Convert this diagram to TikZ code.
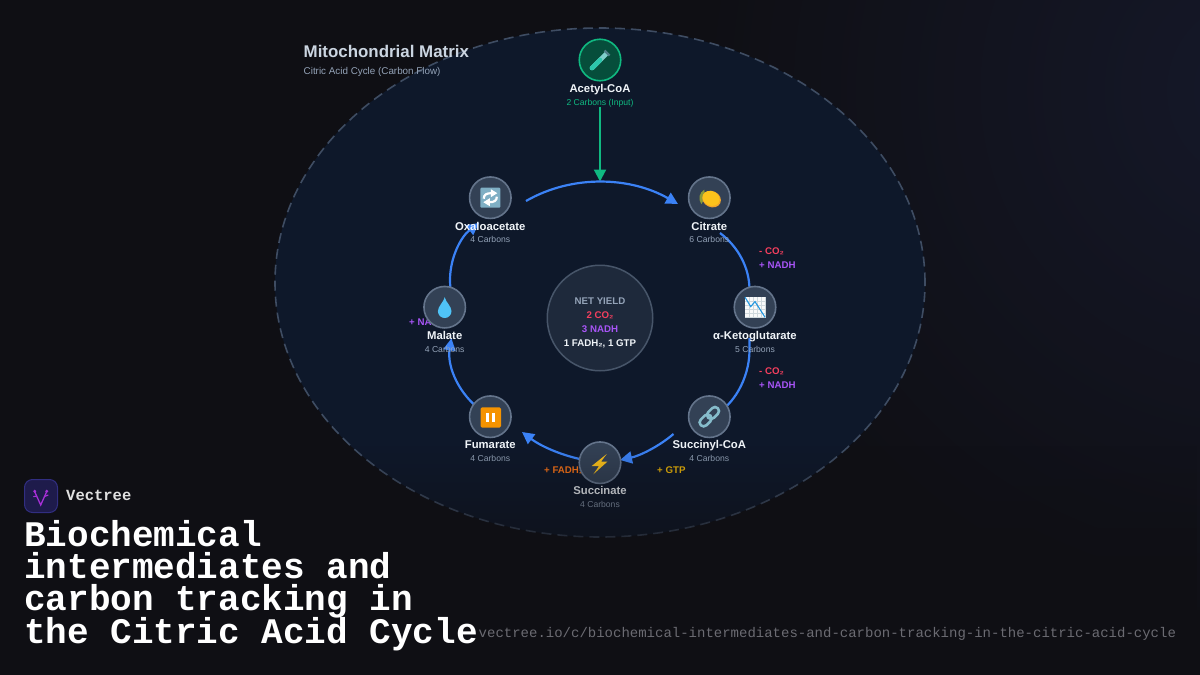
\documentclass[tikz,border=0pt]{standalone}
\usepackage{fontspec}
\setmainfont{Liberation Sans}
\newfontfamily\monof{Liberation Mono}
\usetikzlibrary{arrows.meta,fadings,shapes.geometric}
\definecolor{bgc}{HTML}{0F0F14}
\definecolor{navyc}{HTML}{151829}
\definecolor{matrixc}{HTML}{0E182A}
\definecolor{matrixline}{HTML}{3E4C62}
\definecolor{nodefill}{HTML}{334155}
\definecolor{nodeline}{HTML}{64748B}
\definecolor{blueflow}{HTML}{3B82F6}
\definecolor{greenflow}{HTML}{10B981}
\definecolor{greenfill}{HTML}{064E3B}
\definecolor{centerfill}{HTML}{1E293B}
\definecolor{centerline}{HTML}{475569}
\definecolor{muted}{HTML}{94A3B8}
\definecolor{titlec}{HTML}{CBD5E1}
\definecolor{whitec}{HTML}{F1F5F9}
\definecolor{redc}{HTML}{F43F5E}
\definecolor{purplec}{HTML}{A855F7}
\definecolor{orangec}{HTML}{F97316}
\definecolor{goldc}{HTML}{EAB308}
\definecolor{urlc}{HTML}{6B6B72}
\definecolor{logofill}{HTML}{1E1B4B}
\definecolor{logoline}{HTML}{312E81}
\definecolor{logomark}{HTML}{A62FD6}
\definecolor{tubeglass}{HTML}{7FCFCB}
\definecolor{tubeliquid}{HTML}{2CC7AC}
\definecolor{tubecap}{HTML}{4F7F88}
\definecolor{swapsq}{HTML}{7FAFC4}
\definecolor{leafc}{HTML}{8A9A3A}
\definecolor{lemonedge}{HTML}{F2A42A}
\definecolor{lemonc}{HTML}{FCC21B}
\definecolor{dropc}{HTML}{4FC3F7}
\definecolor{gridc}{HTML}{CFD8DC}
\definecolor{chartc}{HTML}{2196E0}
\definecolor{chainc}{HTML}{86BCCB}
\definecolor{pausec}{HTML}{F59300}
\pgfdeclarelayer{back}\pgfdeclarelayer{mid}\pgfdeclarelayer{front}
\pgfsetlayers{back,mid,main,front}
\tikzfading[name=downfade, top color=transparent!100, bottom color=transparent!0]
\tikzset{
  metab/.style={circle,draw=nodeline,fill=nodefill,line width=1.6pt,minimum size=41.5pt,inner sep=0pt},
  metabin/.style={circle,draw=greenflow,fill=greenfill,line width=1.6pt,minimum size=41.5pt,inner sep=0pt},
  lbl/.style={font=\fontsize{11.3}{13}\selectfont\bfseries,text=whitec,anchor=base,inner sep=0pt},
  sublbl/.style={font=\fontsize{8.6}{10}\selectfont,text=muted,anchor=base,inner sep=0pt},
  yield/.style={font=\fontsize{9.7}{12}\selectfont\bfseries,anchor=base west,inner sep=0pt},
  yieldc/.style={font=\fontsize{9.7}{12}\selectfont\bfseries,anchor=base,inner sep=0pt},
  flow/.style={draw=blueflow,line width=2.2pt,-{Triangle[length=12pt,width=12pt]}},
  inflow/.style={draw=greenflow,line width=2.2pt,-{Triangle[length=12pt,width=12pt]}},
  headline/.style={font=\monof\fontsize{36}{36}\selectfont\bfseries,text=white,anchor=base west,inner sep=0pt},
}
\begin{document}
\begin{tikzpicture}[x=1pt,y=-1pt]
\useasboundingbox (0,0) rectangle (1200,675);
\begin{pgfonlayer}{back}
  \fill[bgc] (0,0) rectangle (1200,675);
  \begin{scope}
    \clip (0,0) rectangle (1200,675);
    \shade[inner color=navyc,outer color=bgc] (1260,90) circle (560);
  \end{scope}
  \node[ellipse,draw=matrixline,fill=matrixc,line width=1.6pt,dash pattern=on 10pt off 6pt,inner sep=0pt,minimum width=650pt,minimum height=509pt] (matrix) at (600,282.5) {};
\end{pgfonlayer}

% nodes
\node[metabin] (acetyl) at (600,60) {};
\node[metab] (oxalo) at (490.3,197.7) {};
\node[metab] (citrate) at (709.3,197.7) {};
\node[metab] (akg) at (755,307.2) {};
\node[metab] (succoa) at (709.3,416.7) {};
\node[metab] (succinate) at (600,462.7) {};
\node[metab] (fumarate) at (490.3,416.7) {};
\node[metab] (malate) at (444.7,307.2) {};
\node[circle,draw=centerline,fill=centerfill,line width=1.5pt,minimum size=105.5pt,inner sep=0pt] (yieldhub) at (600,318) {};
\coordinate (entry) at (600,181.5);

% connectors and side labels, below the nodes
\begin{pgfonlayer}{mid}
  \draw[inflow] ([shift={(0,46.5)}]acetyl.center) -- (entry);
  \draw[flow] ([shift={(35.7,3.3)}]oxalo.center) .. controls ([shift={(82.7,-23.7)}]oxalo.center) and ([shift={(-78.3,-20.7)}]citrate.center) .. ([shift={(-31.3,6.3)}]citrate.center);
  \draw[flow] ([shift={(10.7,35.3)}]citrate.center) .. controls ([shift={(28.7,48.9)}]citrate.center) and ([shift={(-5.5,-39.8)}]akg.center) .. ([shift={(-5.5,-17.2)}]akg.center) -- ([shift={(-5.5,-3.2)}]akg.center);
  \draw[flow] ([shift={(-5.5,30.8)}]akg.center) -- ([shift={(-5.5,42.8)}]akg.center) .. controls ([shift={(-5.5,72.4)}]akg.center) and ([shift={(22.7,-10.2)}]succoa.center) .. ([shift={(-4.3,1.8)}]succoa.center);
  \draw[flow] ([shift={(-35.8,17.3)}]succoa.center) .. controls ([shift={(-51.1,30.2)}]succoa.center) and ([shift={(39.6,-6.9)}]succinate.center) .. ([shift={(20,-2.7)}]succinate.center);
  \draw[flow] ([shift={(-10,-1.7)}]succinate.center) .. controls ([shift={(-34.7,-5.6)}]succinate.center) and ([shift={(51.7,30.3)}]fumarate.center) .. ([shift={(31.7,15.3)}]fumarate.center);
  \draw[flow] ([shift={(-7.8,-5.3)}]fumarate.center) .. controls ([shift={(-31.3,-21.8)}]fumarate.center) and ([shift={(2.2,59.5)}]malate.center) .. ([shift={(6.7,31.1)}]malate.center);
  \draw[flow] ([shift={(5.8,-12.2)}]malate.center) -- ([shift={(5.3,-27.2)}]malate.center) .. controls ([shift={(5.3,-49.8)}]malate.center) and ([shift={(-29.3,38.9)}]oxalo.center) .. ([shift={(-11.3,25.3)}]oxalo.center);
  \node[yield,text=redc] (l1) at (759,254) {- CO₂};
  \node[yield,text=purplec] (l2) at (759,268) {+ NADH};
  \node[yield,text=redc] (l3) at (759,374) {- CO₂};
  \node[yield,text=purplec] (l4) at (759,388) {+ NADH};
  \node[yield,text=purplec] (l5) at (409,325) {+ NADH};
  \node[yield,text=orangec] (l6) at (544,473) {+ FADH₂};
  \node[yield,text=goldc] (l7) at (657,473) {+ GTP};
\end{pgfonlayer}

% node texts
\node[lbl] (t1) at ([shift={(0,32)}]acetyl.center) {Acetyl-CoA};
\node[sublbl,text=greenflow] (s1) at ([shift={(0,45)}]acetyl.center) {2 Carbons (Input)};
\node[lbl] (t2) at ([shift={(0,32.3)}]oxalo.center) {Oxaloacetate};
\node[sublbl] (s2) at ([shift={(0,44.6)}]oxalo.center) {4 Carbons};
\node[lbl] (t3) at ([shift={(0,32.3)}]citrate.center) {Citrate};
\node[sublbl] (s3) at ([shift={(0,44.6)}]citrate.center) {6 Carbons};
\node[lbl] (t4) at ([shift={(0,32)}]akg.center) {α-Ketoglutarate};
\node[sublbl] (s4) at ([shift={(0,45.5)}]akg.center) {5 Carbons};
\node[lbl] (t5) at ([shift={(0,32)}]succoa.center) {Succinyl-CoA};
\node[sublbl] (s5) at ([shift={(0,44.6)}]succoa.center) {4 Carbons};
\node[lbl] (t6) at ([shift={(0,31.5)}]succinate.center) {Succinate};
\node[sublbl] (s6) at ([shift={(0,44.6)}]succinate.center) {4 Carbons};
\node[lbl] (t7) at ([shift={(0,32)}]fumarate.center) {Fumarate};
\node[sublbl] (s7) at ([shift={(0,44.6)}]fumarate.center) {4 Carbons};
\node[lbl] (t8) at ([shift={(0,32)}]malate.center) {Malate};
\node[sublbl] (s8) at ([shift={(0,45.5)}]malate.center) {4 Carbons};

% centre text
\node[yieldc,text=muted] (y1) at (600,304.5) {NET YIELD};
\node[yieldc,text=redc] (y2) at (600,318.5) {2 CO₂};
\node[yieldc,text=purplec] (y3) at (600,332.5) {3 NADH};
\node[yieldc,text=whitec] (y4) at (600,346.5) {1 FADH₂, 1 GTP};

% header
\node[anchor=base west,inner sep=0pt,font=\fontsize{16.9}{20}\selectfont\bfseries,text=titlec] (mtitle) at (303.5,57) {Mitochondrial Matrix};
\node[anchor=base west,inner sep=0pt,font=\fontsize{9.85}{12}\selectfont,text=muted] (msub) at (303.5,74) {Citric Acid Cycle (Carbon Flow)};

% test tube
\begin{scope}[shift={(acetyl.center)}]
  \draw[line width=4.6pt,line cap=round,color=tubeglass] (-8,8) -- (6,-6);
  \draw[line width=4.6pt,line cap=round,color=tubeliquid] (-8,8) -- (0,0);
  \draw[line width=2.2pt,color=tubecap] (4.5,-9.5) -- (9.5,-4.5);
\end{scope}
% swap arrows
\begin{scope}[shift={(oxalo.center)}]
  \fill[rounded corners=1pt,color=swapsq] (-10,-10) rectangle (10,10);
  \draw[white,line width=2.2pt] (-6.5,1) .. controls (-6.5,-3) and (-4,-4.5) .. (1,-4.5);
  \fill[white] (0.5,-8.5) -- (7,-4.5) -- (0.5,-0.5) -- cycle;
  \draw[white,line width=2.2pt] (6.5,-1) .. controls (6.5,3) and (4,4.5) .. (-1,4.5);
  \fill[white] (-0.5,8.5) -- (-7,4.5) -- (-0.5,0.5) -- cycle;
\end{scope}
% lemon
\begin{scope}[shift={(citrate.center)}]
  \fill[color=leafc] (-5,-8) .. controls (-10,-5) and (-11.5,1) .. (-8,6.5) .. controls (-5,3) and (-4,-3) .. (-5,-8);
  \fill[color=lemonedge] (2.3,1.4) ellipse [x radius=9.6,y radius=8,rotate=-25];
  \fill[color=lemonc] (1.8,0.7) ellipse [x radius=8.8,y radius=7.2,rotate=-25];
\end{scope}
% drop
\begin{scope}[shift={(malate.center)}]
  \fill[color=dropc] (0,-10) .. controls (1,-5) and (6.8,-1) .. (6.8,4) .. controls (6.8,8) and (3.5,10.8) .. (0,10.8) .. controls (-3.5,10.8) and (-6.8,8) .. (-6.8,4) .. controls (-6.8,-1) and (-1,-5) .. (0,-10) -- cycle;
\end{scope}
% chart
\begin{scope}[shift={(akg.center)}]
  \fill[white!95!gray] (-10,-10) rectangle (11,11);
  \foreach \g in {-6,-2,2,6,10} {
    \draw[gridc,line width=0.4pt] (\g,-10) -- (\g,11);
    \draw[gridc,line width=0.4pt] (-10,\g) -- (11,\g);
  }
  \draw[color=chartc,line width=1.1pt] (-10,-10) -- (-4.3,-0.6) -- (0,-5.6) -- (10,10);
\end{scope}
% chain
\begin{scope}[shift={(succoa.center)},rotate=45]
  \draw[color=chainc,line width=2.6pt,rounded corners=3.9pt] (-12,-4) rectangle (1.5,4);
  \draw[color=chainc,line width=2.6pt,rounded corners=3.9pt] (-1.5,-4) rectangle (12,4);
\end{scope}
% bolt
\begin{scope}[shift={(succinate.center)}]
  \fill[color=lemonc] (6.7,-8.7) -- (-8.3,3.3) -- (-1,3.3) -- (-6.7,11.6) -- (7.3,-1) -- (1,-1) -- cycle;
\end{scope}
% pause
\begin{scope}[shift={(fumarate.center)}]
  \fill[color=pausec,rounded corners=1.5pt] (-9.7,-9.4) rectangle (10.7,11);
  \fill[white] (-4.3,-3.4) rectangle (-1,5.6);
  \fill[white] (1.4,-3.4) rectangle (4.7,5.6);
\end{scope}

\begin{pgfonlayer}{front}
  % lower fade over the diagram
  \fill[bgc,path fading=downfade] (0,445) rectangle (1200,610);
  \fill[bgc] (0,610) rectangle (1200,675);
  % brand
  \node[draw=logoline,fill=logofill,line width=1pt,rounded corners=8pt,minimum size=33pt,inner sep=0pt] (logo) at (41,496) {};
  \begin{scope}[shift={(logo.center)}]
    \draw[logomark,line width=1.3pt] (-6.3,-4.3) -- (-0.3,9) -- (5.7,-4.3);
    \draw[logomark,line width=1.1pt] (-4,0) -- (-7.7,0.7);
    \draw[logomark,line width=1.1pt] (3.5,0.5) -- (7.3,-1);
    \fill[logomark] (-6.3,-4.8) circle (1.6);
    \fill[logomark] (5.7,-4.8) circle (1.6);
  \end{scope}
  \node[anchor=base west,inner sep=0pt,font=\monof\fontsize{15.5}{18}\selectfont\bfseries,text=white!88!black] (brand) at (66,500) {Vectree};
  \node[headline] (h1) at (24,546) {Biochemical};
  \node[headline] (h2) at (24,578.5) {intermediates and};
  \node[headline] (h3) at (24,610.5) {carbon tracking in};
  \node[headline] (h4) at (24,643) {the Citric Acid Cycle};
  \node[anchor=base west,inner sep=0pt,font=\monof\fontsize{14}{16}\selectfont,text=urlc] (url) at (478.5,637) {vectree.io/c/biochemical-intermediates-and-carbon-tracking-in-the-citric-acid-cycle};
\end{pgfonlayer}
\end{tikzpicture}
\end{document}
